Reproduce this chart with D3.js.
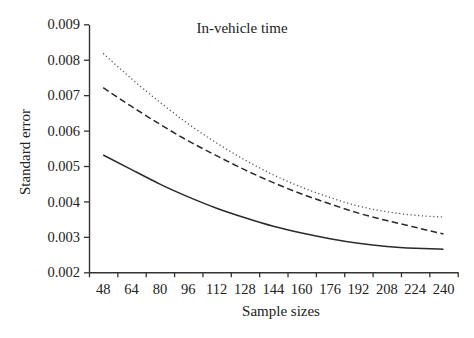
<!DOCTYPE html>
<html>
<head>
<meta charset="utf-8">
<script src="https://cdn.jsdelivr.net/npm/d3@7"></script>
<style>
  html, body { margin: 0; padding: 0; background: #fff; }
  svg { display: block; }
  text { font-family: "Liberation Serif", "DejaVu Serif", serif; fill: #222; }
</style>
</head>
<body>
<svg id="chart" width="474" height="338"></svg>
<script>
// Sample sizes along the x axis
const sampleSizes = [48, 64, 80, 96, 112, 128, 144, 160, 176, 192, 208, 224, 240];

// Standard error of the in-vehicle time coefficient for three designs
const seSolid  = [0.00531, 0.00490, 0.00449, 0.00413, 0.00381, 0.00354, 0.00330, 0.00311, 0.00295, 0.00282, 0.00273, 0.00268, 0.00265];
const seDashed = [0.00721, 0.00668, 0.00618, 0.00571, 0.00529, 0.00489, 0.00453, 0.00421, 0.00393, 0.00367, 0.00346, 0.00327, 0.00308];
const seDotted = [0.00818, 0.00746, 0.00680, 0.00619, 0.00565, 0.00517, 0.00475, 0.00440, 0.00411, 0.00387, 0.00371, 0.00361, 0.00356];

const yTicks = [0.002, 0.003, 0.004, 0.005, 0.006, 0.007, 0.008, 0.009];

const svg = d3.select("#chart");
const plotLeft = 89, plotRight = 457.7, plotTop = 24.3, plotBottom = 272.3;

const x = d3.scaleBand().domain(sampleSizes).range([plotLeft, plotRight]).padding(0);
const xEdges = d3.scaleLinear().domain([0, sampleSizes.length]).range([plotLeft, plotRight]);
const y = d3.scaleLinear().domain([0.002, 0.009]).range([plotBottom, plotTop]);

// y axis
svg.append("g")
  .attr("transform", `translate(${plotLeft},0)`)
  .call(d3.axisLeft(y).tickValues(yTicks).tickFormat(d3.format(".3f")).tickSize(5).tickSizeOuter(0).tickPadding(4));

// x axis: tick marks at band edges, labels at band centres
svg.append("g")
  .attr("transform", `translate(0,${plotBottom})`)
  .call(d3.axisBottom(xEdges).tickValues(d3.range(sampleSizes.length + 1)).tickFormat("").tickSize(5).tickSizeOuter(0));

const xLabelAxis = svg.append("g")
  .attr("transform", `translate(0,${plotBottom})`)
  .call(d3.axisBottom(x).tickSize(0).tickPadding(11));
xLabelAxis.select(".domain").remove();

svg.selectAll(".domain").attr("stroke", "#333").attr("stroke-width", 1.4);
svg.selectAll(".tick line").attr("stroke", "#333").attr("stroke-width", 1.3);
svg.selectAll(".tick text").style("font-size", "14.5px").attr("fill", "#222");

// curves
const line = d3.line()
  .x((d, i) => x(sampleSizes[i]) + x.bandwidth() / 2)
  .y(d => y(d))
  .curve(d3.curveNatural);

const series = [
  { values: seDotted, dash: "1.2 2.6", width: 1.3, color: "#555" },
  { values: seDashed, dash: "6.5 3.5", width: 1.5, color: "#2a2a2a" },
  { values: seSolid,  dash: null,      width: 1.5, color: "#2a2a2a" }
];

svg.append("g").selectAll("path")
  .data(series)
  .join("path")
  .attr("d", d => line(d.values))
  .attr("fill", "none")
  .attr("stroke", d => d.color)
  .attr("stroke-width", d => d.width)
  .attr("stroke-dasharray", d => d.dash);

// titles
svg.append("text")
  .attr("x", 242).attr("y", 33)
  .attr("text-anchor", "middle")
  .style("font-size", "15px")
  .text("In-vehicle time");

svg.append("text")
  .attr("x", 281).attr("y", 315.5)
  .attr("text-anchor", "middle")
  .style("font-size", "15px")
  .text("Sample sizes");

svg.append("text")
  .attr("transform", "translate(30,152) rotate(-90)")
  .attr("text-anchor", "middle")
  .style("font-size", "15px")
  .text("Standard error");
</script>
</body>
</html>
